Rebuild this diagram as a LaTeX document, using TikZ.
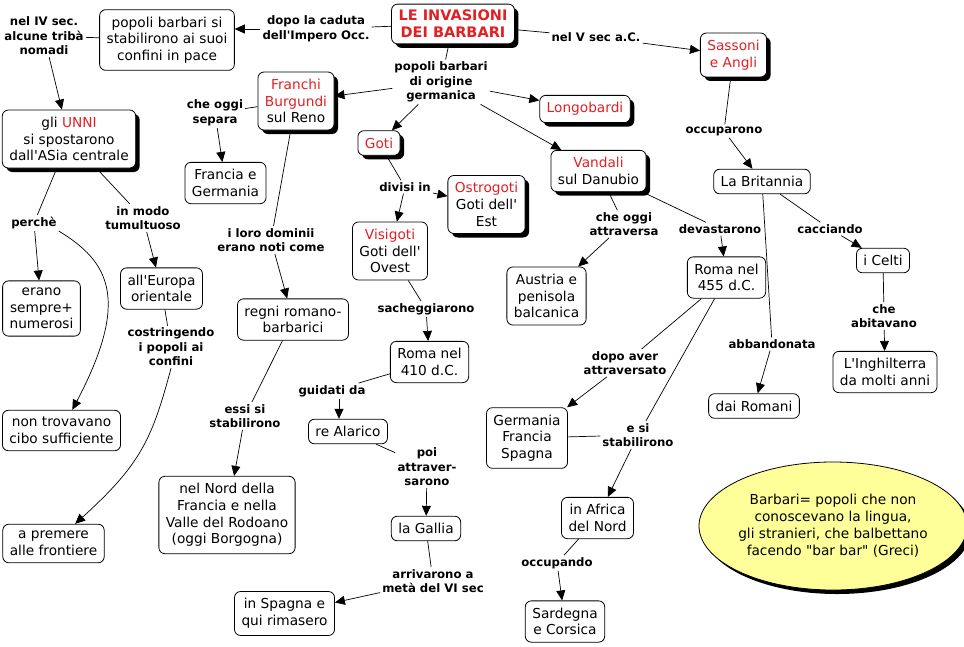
\documentclass[tikz,border=0pt]{standalone}
\usepackage{fontspec}
\setmainfont{DejaVu Sans}[Ligatures=TeXOff]
\usetikzlibrary{arrows.meta,shadows,shapes.geometric}
\definecolor{cred}{RGB}{226,32,36}
\definecolor{cyel}{RGB}{255,255,153}
\newcommand\nfont{\fontsize{13.7}{16.7}\selectfont}
\newcommand\lfont{\fontsize{11.7}{14.5}\selectfont\bfseries}
\newcommand\rd[1]{\textcolor{cred}{#1}}
\pgfdeclarelayer{bg}
\pgfsetlayers{bg,main}
\begin{document}
\begin{tikzpicture}[x=1pt,y=-1pt,
 box/.style={draw, rounded corners=6pt, fill=white, align=center, font=\nfont, inner xsep=7pt, inner ysep=7pt, line width=0.8pt},
 sbox/.style={box, drop shadow={shadow xshift=4pt, shadow yshift=-4pt, opacity=1, fill=black}},
 lbl/.style={align=center, font=\lfont, inner sep=2pt},
 con/.style={line width=0.7pt},
 arr/.style={line width=0.7pt, -{Triangle[length=10pt,width=9pt]}}]
\useasboundingbox (0,0) rectangle (964,646);

% concepts
\node[sbox, font=\fontsize{14.5}{17}\selectfont\bfseries, text=cred, inner ysep=6pt] (inv) at (453,24) {LE INVASIONI\\DEI BARBARI};
\node[box] (popstab) at (167,40) {popoli barbari si\\stabilirono ai suoi\\confini in pace};
\node[sbox] (sass) at (733.5,55) {\rd{Sassoni}\\\rd{e Angli}};
\node[sbox] (fran) at (296,101) {\rd{Franchi}\\\rd{Burgundi}\\sul Reno};
\node[sbox] (longo) at (585,109) {\rd{Longobardi}};
\node[sbox] (goti) at (379,143) {\rd{Goti}};
\node[sbox] (vand) at (598.5,171) {\rd{Vandali}\\sul Danubio};
\node[sbox] (unni) at (69,139) {gli \rd{UNNI}\\si spostarono\\dall'ASia centrale};
\node[box] (frger) at (225.5,183) {Francia e\\Germania};
\node[sbox] (ostro) at (486.5,204.5) {\rd{Ostrogoti}\\Goti dell'\\Est};
\node[box] (visi) at (390,251) {\rd{Visigoti}\\Goti dell'\\Ovest};
\node[box] (brit) at (762,181.5) {La Britannia};
\node[box] (celti) at (883,260.5) {i Celti};
\node[box] (europa) at (161.5,288.5) {all'Europa\\orientale};
\node[box] (regni) at (293,319.5) {regni romano-\\barbarici};
\node[box] (sempre) at (41.5,308.5) {erano\\sempre+\\numerosi};
\node[box] (austria) at (546.5,296) {Austria e\\penisola\\balcanica};
\node[box] (r455) at (726.5,277.5) {Roma nel\\455 d.C.};
\node[box] (ingh) at (885,372) {L'Inghilterra\\da molti anni};
\node[box] (r410) at (429.5,362) {Roma nel\\410 d.C.};
\node[box] (romani) at (754,406) {dai Romani};
\node[box] (nontrov) at (61.5,430.5) {non trovavano\\cibo sufficiente};
\node[box] (alarico) at (348,431.5) {re Alarico};
\node[box] (gfs) at (527,438) {Germania\\Francia\\Spagna};
\node[box] (africa) at (597.5,518) {in Africa\\del Nord};
\node[box] (gallia) at (426,528.5) {la Gallia};
\node[box] (nord) at (227,515) {nel Nord della\\Francia e nella\\Valle del Rodoano\\(oggi Borgogna)};
\node[box] (premere) at (53.5,543.5) {a premere\\alle frontiere};
\node[box] (spagna) at (284.5,613.5) {in Spagna e\\qui rimasero};
\node[box] (sard) at (565,621.5) {Sardegna\\e Corsica};
\node[ellipse, draw, fill=cyel, line width=0.8pt, minimum width=234pt, minimum height=128pt, inner sep=0pt, align=center, font=\fontsize{13.7}{17}\selectfont, drop shadow={shadow xshift=4pt, shadow yshift=-4pt, opacity=1, fill=black}] (ell) at (833,526) {Barbari= popoli che non\\conoscevano la lingua,\\gli stranieri, che balbettano\\facendo "bar bar" (Greci)};

% link labels
\node[lbl] (iv) at (44,36) {nel IV sec.\\alcune tribà\\nomadi};
\node[lbl] (dopo) at (316,29) {dopo la caduta\\dell'Impero Occ.};
\node[lbl] (nelv) at (596,37) {nel V sec a.C.};
\node[lbl] (germ) at (441,82) {popoli barbari\\di origine\\germanica};
\node[lbl] (occup) at (724,131) {occuparono};
\node[lbl] (separa) at (215,113) {che oggi\\separa};
\node[lbl] (divisi) at (405,187) {divisi in};
\node[lbl] (attrav) at (624,224) {che oggi\\attraversa};
\node[lbl] (devast) at (720,229) {devastarono};
\node[lbl] (cacc) at (830,229) {cacciando};
\node[lbl] (perche) at (34,223) {perchè};
\node[lbl] (tumult) at (143,218) {in modo\\tumultuoso};
\node[lbl] (domini) at (271,240) {i loro dominii\\erano noti come};
\node[lbl] (costr) at (171,347) {costringendo\\i popoli ai\\confini};
\node[lbl] (sacch) at (426,309) {sacheggiarono};
\node[lbl] (abit) at (884,316) {che\\abitavano};
\node[lbl] (dopoaver) at (625,363) {dopo aver\\attraversato};
\node[lbl] (abband) at (772,344) {abbandonata};
\node[lbl] (guid) at (332,391) {guidati da};
\node[lbl] (essi) at (245,416) {essi si\\stabilirono};
\node[lbl] (esi) at (638,435) {e si\\stabilirono};
\node[lbl] (poi) at (427,467) {poi\\attraver-\\sarono};
\node[lbl] (occupando) at (557,563) {occupando};
\node[lbl] (arriv) at (433,581) {arrivarono a\\metà del VI sec};

\begin{pgfonlayer}{bg}
\fill[white] (0,0) rectangle (964,646);
\draw[con] (inv) -- (dopo);
\draw[arr] (dopo.west) -- (dopo.west -| popstab.east);
\draw[con] (popstab) -- (iv);
\draw[arr] (iv) -- (unni);
\draw[con] (inv) -- (nelv);
\draw[arr] (nelv) -- (sass);
\draw[con] (inv) -- (germ);
\draw[arr] (germ) -- (fran);
\draw[arr] (germ) -- (longo);
\draw[arr] (germ) -- (goti);
\draw[arr] (germ) -- (vand);
\draw[con] (sass) -- (occup);
\draw[arr] (occup) -- (brit);
\draw[con] (fran) -- (separa);
\draw[arr] (separa) -- (frger);
\draw[con] (fran) -- (domini);
\draw[arr] (domini) -- (regni);
\draw[con] (unni) -- (perche);
\draw[arr] (perche) -- (sempre);
\draw[arr] (perche.south east) .. controls (110,262) and (130,300) .. (nontrov);
\draw[con] (unni) -- (tumult);
\draw[arr] (tumult) -- (europa);
\draw[con] (europa) -- (costr);
\draw[arr] (costr.south) .. controls (152,440) and (140,465) .. (premere);
\draw[con] (regni) -- (essi);
\draw[arr] (essi) -- (nord);
\draw[con] (goti) -- (divisi);
\draw[arr] (divisi) -- (ostro);
\draw[arr] (divisi) -- (visi);
\draw[con] (vand) -- (attrav);
\draw[arr] (attrav) -- (austria);
\draw[con] (vand) -- (devast);
\draw[arr] (devast) -- (r455);
\draw[con] (visi) -- (sacch);
\draw[arr] (sacch) -- (r410);
\draw[con] (r410) -- (guid);
\draw[arr] ([xshift=7pt]guid.south) -- ([xshift=7pt]guid.south |- alarico.north);
\draw[con] (alarico) -- (poi);
\draw[arr] (poi) -- (gallia);
\draw[con] (gallia) -- (arriv);
\draw[arr] (arriv) -- (spagna);
\draw[con] (r455) -- (dopoaver);
\draw[arr] (dopoaver) -- (gfs);
\draw[con] (r455) -- (esi);
\draw[con] (gfs) -- (esi);
\draw[arr] (esi) -- (africa);
\draw[con] (africa) -- (occupando);
\draw[arr] (occupando) -- (sard);
\draw[con] (brit) -- (abband);
\draw[arr] (abband) -- (romani);
\draw[con] (brit) -- (cacc);
\draw[arr] (cacc) -- (celti);
\draw[con] (celti) -- (abit);
\draw[arr] (abit) -- (ingh);
\end{pgfonlayer}
\end{tikzpicture}
\end{document}
